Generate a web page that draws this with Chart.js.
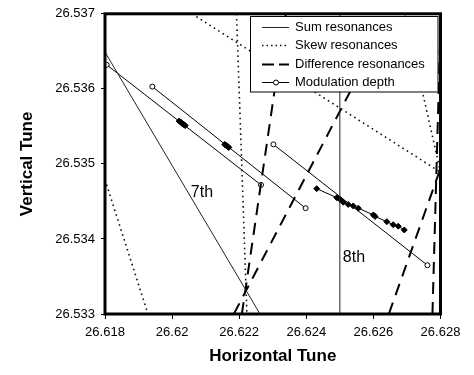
<!DOCTYPE html>
<html>
<head>
<meta charset="utf-8">
<script src="https://cdn.jsdelivr.net/npm/chart.js@4.4.0/dist/chart.umd.min.js"></script>
<style>
    body { margin: 0; background: #fff; }
</style>
</head>
<body>
<canvas id="Grafico1" width="474" height="375"></canvas>
<script>
// tick labels
const ticksX = [26.618, 26.62, 26.622, 26.624, 26.626, 26.628];
const ticksY = [26.533, 26.534, 26.535, 26.536, 26.537];

// resonance lines (a {x:null,y:null} point breaks the line into segments)
const sumaRes = [
    {x: 26.618, y: 26.53649}, {x: 26.62262, y: 26.533},
    {x: null, y: null},
    {x: 26.625, y: 26.533}, {x: 26.625, y: 26.537}
];
const sesgoRes = [
    {x: 26.62059, y: 26.537}, {x: 26.628, y: 26.53489},
    {x: null, y: null},
    {x: 26.62192, y: 26.537}, {x: 26.62223, y: 26.533},
    {x: null, y: null},
    {x: 26.618, y: 26.53479}, {x: 26.61928, y: 26.533},
    {x: null, y: null},
    {x: 26.62694, y: 26.537}, {x: 26.628, y: 26.53489}
];
const difRes = [
    {x: 26.62208, y: 26.533}, {x: 26.62339, y: 26.537},
    {x: null, y: null},
    {x: 26.62184, y: 26.533}, {x: 26.62652, y: 26.537},
    {x: null, y: null},
    {x: 26.62646, y: 26.533}, {x: 26.628, y: 26.53494},
    {x: null, y: null},
    {x: 26.62776, y: 26.533}, {x: 26.628, y: 26.53684}
];
const modulacion = [
    {x: 26.61805, y: 26.53632}, {x: 26.62265, y: 26.53472},
    {x: null, y: null},
    {x: 26.61941, y: 26.53603}, {x: 26.62398, y: 26.53441},
    {x: null, y: null},
    {x: 26.62302, y: 26.53526}, {x: 26.62761, y: 26.53365}
];
// measured tunes
const sintonias = [
    {x: 26.62021, y: 26.53557}, {x: 26.62025, y: 26.53556}, {x: 26.62029, y: 26.53554},
    {x: 26.62033, y: 26.53553}, {x: 26.62036, y: 26.53552}, {x: 26.62039, y: 26.53551},
    {x: null, y: null},
    {x: 26.62157, y: 26.53526}, {x: 26.6216, y: 26.53525}, {x: 26.62163, y: 26.53524},
    {x: 26.62166, y: 26.53523}, {x: 26.62169, y: 26.53522},
    {x: null, y: null},
    {x: 26.62431, y: 26.53467}, {x: 26.62491, y: 26.53455}, {x: 26.625, y: 26.53453},
    {x: 26.6251, y: 26.53449}, {x: 26.62525, y: 26.53446}, {x: 26.6254, y: 26.53444},
    {x: 26.62555, y: 26.53441}, {x: 26.626, y: 26.53432}, {x: 26.62605, y: 26.5343},
    {x: 26.6264, y: 26.53423}, {x: 26.62659, y: 26.53419}, {x: 26.62674, y: 26.53417},
    {x: 26.62692, y: 26.53412}
];
const etiquetas = [
    {texto: '7th', x: 26.62089, y: 26.53462},
    {texto: '8th', x: 26.62542, y: 26.53375}
];

const fuente = "'Liberation Sans', Arial, sans-serif";

// frame, legend box and the 7th / 8th labels
const extras = {
    id: 'extras',
    afterDraw(chart) {
        const ctx = chart.ctx;
        const area = chart.chartArea;
        ctx.save();
        // legend
        ctx.fillStyle = '#fff';
        ctx.fillRect(250, 16, 188, 76);
        ctx.strokeStyle = '#000';
        ctx.lineWidth = 1;
        ctx.setLineDash([]);
        ctx.strokeRect(250.5, 16.5, 187.5, 75.5);
        ctx.font = '13px ' + fuente;
        ctx.textBaseline = 'middle';
        ctx.textAlign = 'left';
        for (let i = 0; i < 4; i++) {
            const ds = chart.data.datasets[i];
            const y = Math.round(27 + i * 18.4) + 0.5;
            ctx.strokeStyle = ds.borderColor;
            ctx.lineWidth = ds.borderWidth;
            ctx.setLineDash(ds.legendDash || []);
            ctx.beginPath();
            ctx.moveTo(262, y);
            ctx.lineTo(289, y);
            ctx.stroke();
            ctx.setLineDash([]);
            if (ds.pointRadius > 0) {
                ctx.beginPath();
                ctx.arc(276, y, ds.pointRadius, 0, Math.PI * 2);
                ctx.fillStyle = '#fff';
                ctx.fill();
                ctx.lineWidth = 1;
                ctx.strokeStyle = '#000';
                ctx.stroke();
            }
            ctx.fillStyle = '#000';
            ctx.fillText(ds.label, 295, y);
        }
        // frame
        ctx.strokeStyle = '#000';
        ctx.lineWidth = 3;
        ctx.strokeRect(area.left, area.top, area.right - area.left, area.bottom - area.top);
        // labels
        ctx.font = '16px ' + fuente;
        ctx.textAlign = 'center';
        ctx.fillStyle = '#000';
        etiquetas.forEach(e => {
            ctx.fillText(e.texto, chart.scales.x.getPixelForValue(e.x), chart.scales.y.getPixelForValue(e.y));
        });
        ctx.restore();
    }
};

let CanvasG1 = document.getElementById('Grafico1').getContext('2d');
let datos = {
    datasets: [{
            label: 'Sum resonances',
            data: sumaRes,
            borderColor: '#222',
            borderWidth: 1,
            pointRadius: 0,
            clip: 0
        },
        {
            label: 'Skew resonances',
            data: sesgoRes,
            borderColor: '#111',
            borderWidth: 1.6,
            borderDash: [1.6, 3.6],
            legendDash: [1.5, 3],
            pointRadius: 0,
            clip: 0
        },
        {
            label: 'Difference resonances',
            data: difRes,
            borderColor: '#000',
            borderWidth: 2,
            borderDash: [12, 8],
            legendDash: [12, 5],
            pointRadius: 0,
            clip: 0
        },
        {
            label: 'Modulation depth',
            data: modulacion,
            borderColor: '#000',
            borderWidth: 1,
            pointRadius: 2.5,
            pointBackgroundColor: '#fff',
            pointBorderColor: '#000',
            pointBorderWidth: 1,
            clip: 0
        },
        {
            label: 'Tunes',
            data: sintonias,
            borderColor: '#000',
            borderWidth: 1,
            pointStyle: 'rectRot',
            pointRadius: 3,
            pointBackgroundColor: '#000',
            pointBorderColor: '#000',
            clip: 0
        }
    ]
};
let opciones = {
    responsive: false,
    animation: false,
    layout: { padding: { top: 13, right: 33.5, left: 0, bottom: 0 } },
    plugins: { legend: { display: false }, tooltip: { enabled: false } },
    elements: { line: { tension: 0 } },
    scales: {
        x: {
            type: 'linear',
            min: 26.618,
            max: 26.628,
            afterBuildTicks: s => { s.ticks = ticksX.map(v => ({ value: v })); },
            afterFit: s => { s.height = 61; },
            grid: { display: true, drawOnChartArea: false, drawTicks: true, tickLength: 5, color: '#000' },
            border: { display: false },
            ticks: {
                color: '#000',
                font: { family: fuente, size: 13 },
                padding: 6,
                maxRotation: 0,
                autoSkip: false,
                callback: v => String(+v.toFixed(3))
            },
            title: {
                display: true,
                text: 'Horizontal Tune',
                color: '#000',
                font: { family: fuente, size: 17, weight: 'bold' },
                padding: { top: 0, bottom: 8 }
            }
        },
        y: {
            type: 'linear',
            min: 26.533,
            max: 26.537,
            afterBuildTicks: s => { s.ticks = ticksY.map(v => ({ value: v })); },
            afterFit: s => { s.width = 105; },
            grid: { display: true, drawOnChartArea: false, drawTicks: true, tickLength: 4, color: '#000' },
            border: { display: false },
            ticks: {
                color: '#000',
                font: { family: fuente, size: 13 },
                padding: 6,
                autoSkip: false,
                callback: v => v.toFixed(3)
            },
            title: {
                display: true,
                text: 'Vertical Tune',
                color: '#000',
                font: { family: fuente, size: 17, weight: 'bold' },
                padding: { top: 17, bottom: 0 }
            }
        }
    }
};
let G1 = new Chart(CanvasG1, {
    type: 'line',
    data: datos,
    options: opciones,
    plugins: [extras]
});
</script>
</body>
</html>
